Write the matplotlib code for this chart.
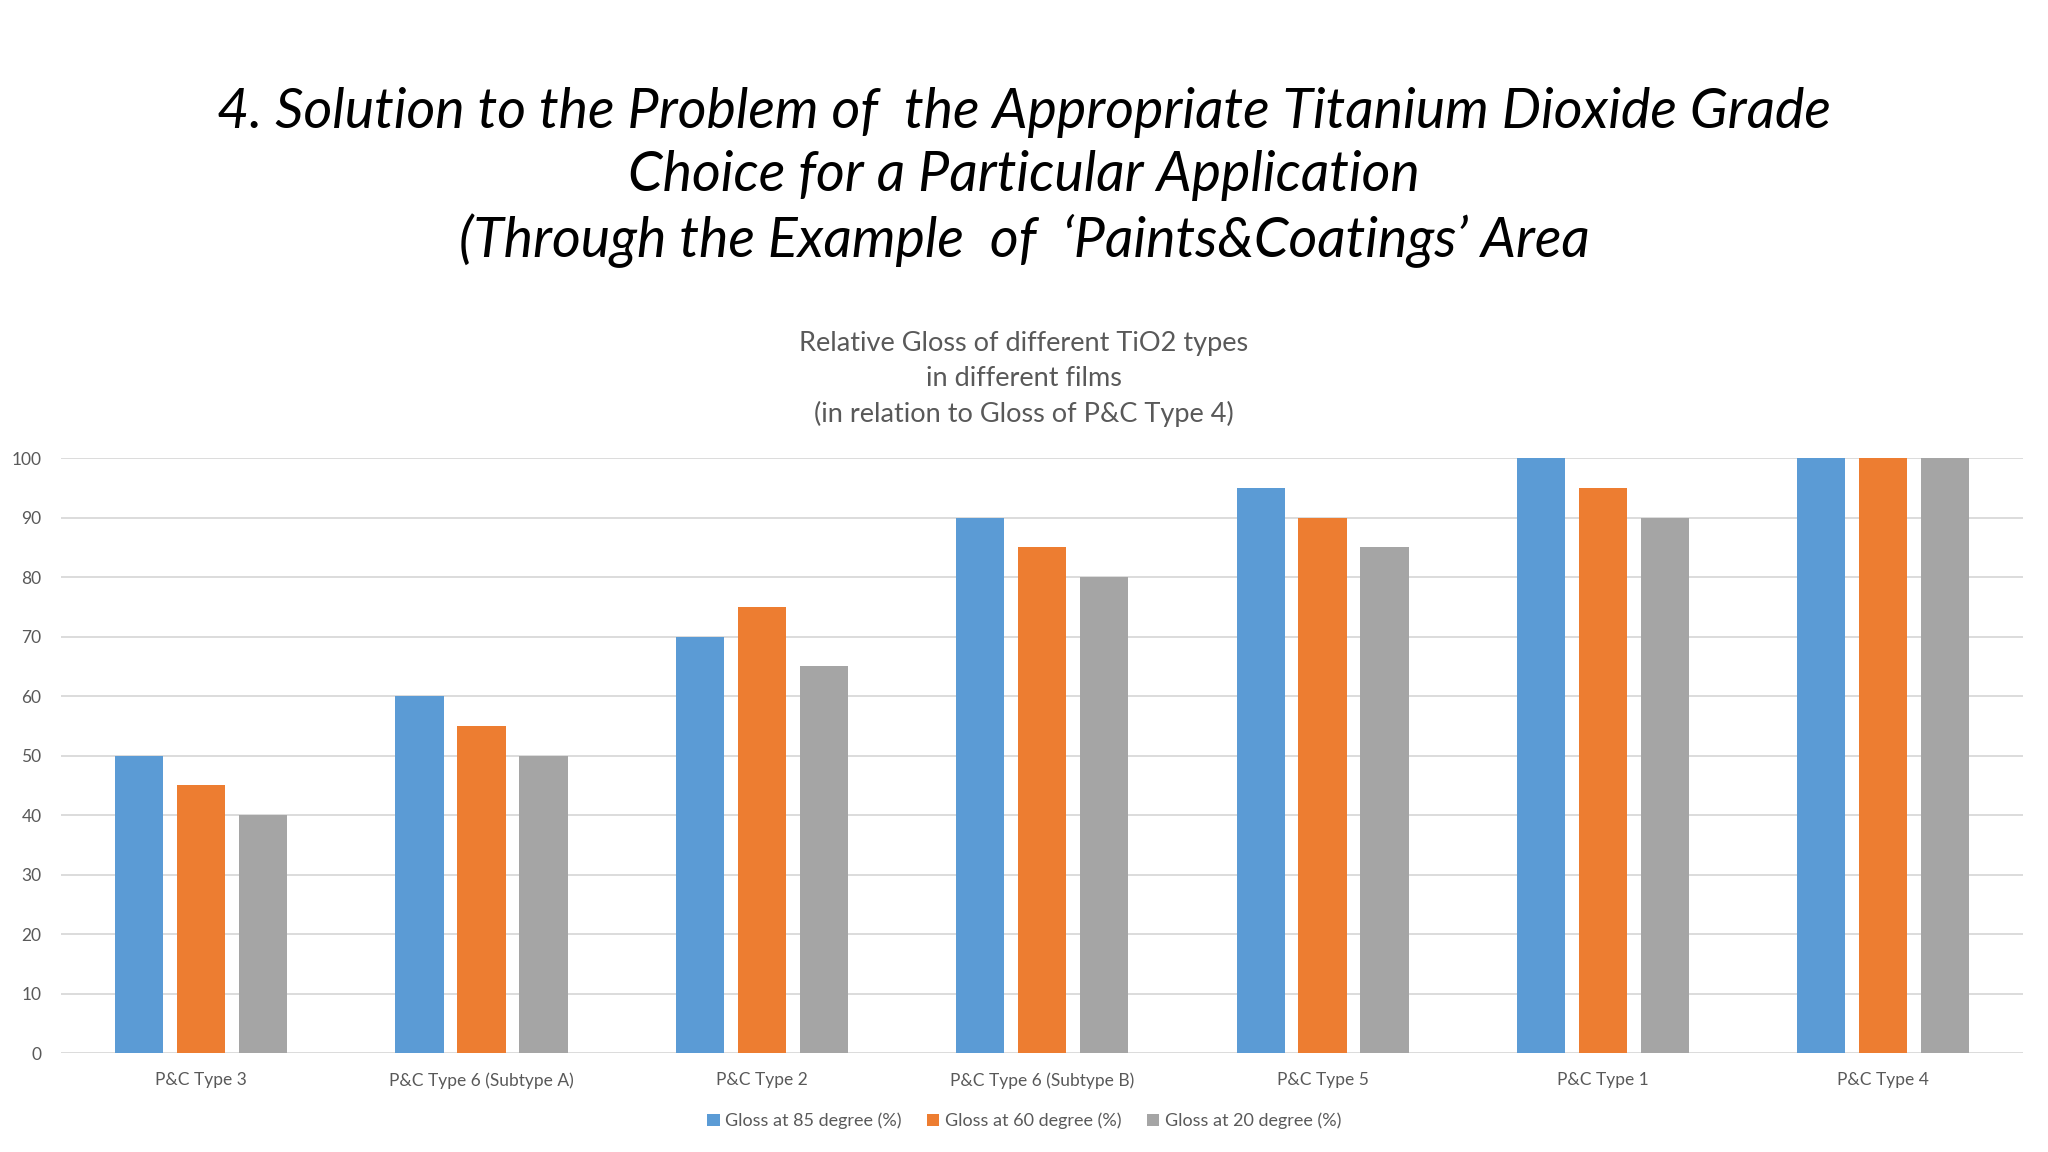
import numpy as np
import matplotlib
matplotlib.use("Agg")
import matplotlib.pyplot as plt

plt.rcParams['font.family'] = ['Lato', 'DejaVu Sans']

categories = ['P&C Type 3', 'P&C Type 6 (Subtype A)', 'P&C Type 2',
              'P&C Type 6 (Subtype B)', 'P&C Type 5', 'P&C Type 1', 'P&C Type 4']
gloss_85 = [50, 60, 70, 90, 95, 100, 100]
gloss_60 = [45, 55, 75, 85, 90, 95, 100]
gloss_20 = [40, 50, 65, 80, 85, 90, 100]
series_names = ['Gloss at 85 degree (%)', 'Gloss at 60 degree (%)', 'Gloss at 20 degree (%)']
yticks = [0, 10, 20, 30, 40, 50, 60, 70, 80, 90, 100]

colors = ['#5B9BD5', '#ED7D31', '#A5A5A5']
text_gray = '#595959'

fig = plt.figure(figsize=(20.48, 11.52), dpi=100)
ax = fig.add_axes([0.0298, 0.0859, 0.9582, 0.5165])

x = np.arange(len(categories))
width = 0.172
step = 0.221
for i, (vals, name) in enumerate(zip([gloss_85, gloss_60, gloss_20], series_names)):
    ax.bar(x + (i - 1) * step, vals, width, color=colors[i], label=name, zorder=3)

ax.set_xlim(-0.5, len(categories) - 0.5)
ax.set_ylim(0, 100)
ax.set_yticks(yticks)
ax.set_xticks(x)
ax.set_xticklabels(categories)
ax.tick_params(axis='both', length=0, colors=text_gray, labelsize=12.5)
ax.tick_params(axis='x', pad=14)
ax.tick_params(axis='y', pad=14)
ax.grid(axis='y', color='#D9D9D9', linewidth=1.3, zorder=0)
for s in ax.spines.values():
    s.set_visible(False)

leg = fig.legend(loc='center', bbox_to_anchor=(0.5, 0.027), ncol=3, frameon=False,
                 fontsize=13, handlelength=0.7, handleheight=0.7,
                 handletextpad=0.3, columnspacing=1.4)
for t in leg.get_texts():
    t.set_color(text_gray)

fig.text(0.5, 0.671, 'Relative Gloss of different TiO2 types\nin different films\n(in relation to Gloss of P&C Type 4)',
         ha='center', va='center', fontsize=19.5, color=text_gray, linespacing=1.5)

fig.text(0.5, 0.846, '4. Solution to the Problem of  the Appropriate Titanium Dioxide Grade\n'
         'Choice for a Particular Application\n'
         '(Through the Example  of  \u2018Paints&Coatings\u2019 Area',
         ha='center', va='center', fontsize=40, style='italic', color='black', linespacing=1.28)

fig.savefig('out.png', dpi=100)
